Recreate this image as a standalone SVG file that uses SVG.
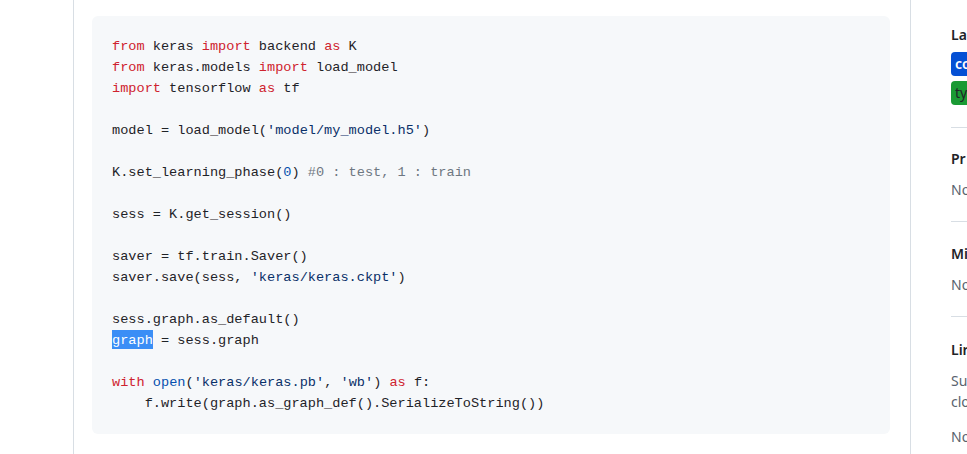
<svg xmlns="http://www.w3.org/2000/svg" width="967" height="454" viewBox="0 0 967 454">
<style>
.c{font-family:"Liberation Mono",monospace;font-size:13.6px;fill:#1f2328;white-space:pre}
.k{fill:#cf222e}.s{fill:#0a3069}.n{fill:#0550ae}.m{fill:#6e7781}
.h{font-family:"Noto Sans","Liberation Sans",sans-serif;font-size:14px;font-weight:600;fill:#1f2328}
.t{font-family:"Noto Sans","Liberation Sans",sans-serif;font-size:14px;fill:#59636e}
</style>
<rect width="967" height="454" fill="#fff"/>
<line x1="73.5" y1="0" x2="73.5" y2="454" stroke="#d8dee4"/>
<line x1="910.5" y1="0" x2="910.5" y2="454" stroke="#d8dee4"/>
<rect x="92" y="16" width="798" height="418" rx="6" fill="#f6f8fa"/>
<rect x="112" y="330" width="41" height="19" fill="#3a8ef6"/>
<g id="code">
<text class="c" x="112" y="50"><tspan class="k">from</tspan> keras <tspan class="k">import</tspan> backend <tspan class="k">as</tspan> K</text>
<text class="c" x="112" y="71"><tspan class="k">from</tspan> keras.models <tspan class="k">import</tspan> load_model</text>
<text class="c" x="112" y="92"><tspan class="k">import</tspan> tensorflow <tspan class="k">as</tspan> tf</text>
<text class="c" x="112" y="134">model = load_model(<tspan class="s">'model/my_model.h5'</tspan>)</text>
<text class="c" x="112" y="176">K.set_learning_phase(<tspan class="n">0</tspan>) <tspan class="m">#0 : test, 1 : train</tspan></text>
<text class="c" x="112" y="218">sess = K.get_session()</text>
<text class="c" x="112" y="260">saver = tf.train.Saver()</text>
<text class="c" x="112" y="281">saver.save(sess, <tspan class="s">'keras/keras.ckpt'</tspan>)</text>
<text class="c" x="112" y="323">sess.graph.as_default()</text>
<text class="c" x="112" y="344"><tspan fill="#fff">graph</tspan> = sess.graph</text>
<text class="c" x="112" y="386"><tspan class="k">with</tspan> <tspan class="n">open</tspan>(<tspan class="s">'keras/keras.pb'</tspan>, <tspan class="s">'wb'</tspan>) <tspan class="k">as</tspan> f:</text>
<text class="c" x="112" y="407">    f.write(graph.as_graph_def().SerializeToString())</text>
</g>
<g id="sidebar">
<text class="h" x="951" y="40">La</text>
<rect x="951" y="52" width="30" height="24" rx="4" fill="#0550d4"/>
<text class="h" x="955" y="69" fill="#fff" style="fill:#fff">co</text>
<rect x="951" y="81" width="30" height="24" rx="4" fill="#1a9a34"/>
<text x="955" y="98" style="font-family:'Noto Sans',sans-serif;font-size:14px;fill:#1f2328">ty</text>
<line x1="951" y1="127.5" x2="967" y2="127.5" stroke="#d8dee4"/>
<text class="h" x="951" y="164">Pr</text>
<text class="t" x="951" y="195">No</text>
<line x1="951" y1="221.5" x2="967" y2="221.5" stroke="#d8dee4"/>
<text class="h" x="951" y="259">Mi</text>
<text class="t" x="951" y="290">No</text>
<line x1="951" y1="316.5" x2="967" y2="316.5" stroke="#d8dee4"/>
<text class="h" x="951" y="355">Lir</text>
<text class="t" x="951" y="386">Su</text>
<text class="t" x="951" y="407">clo</text>
<text class="t" x="951" y="442">No</text>
</g>
</svg>
